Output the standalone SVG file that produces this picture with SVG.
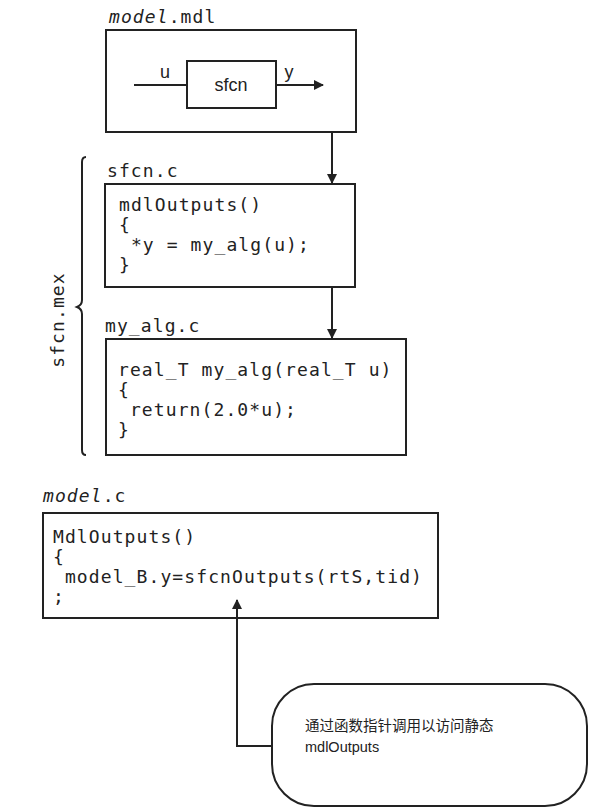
<svg xmlns="http://www.w3.org/2000/svg" width="606" height="808" viewBox="0 0 606 808">
<style>
.box{fill:#fff;stroke:#222;stroke-width:2}
.ln{fill:none;stroke:#222;stroke-width:2}
.mono{font-family:"DejaVu Sans Mono","Liberation Mono",monospace;font-size:18px;letter-spacing:1.1px;fill:#222}
.sans{font-family:"Liberation Sans",Arial,sans-serif;font-size:18px;fill:#222}
.cn{font-family:"Liberation Sans","Noto Sans CJK SC",sans-serif;font-size:14.5px;fill:#222}
</style>
<defs><marker id="ah" markerWidth="10" markerHeight="10" refX="9" refY="5" orient="auto" markerUnits="userSpaceOnUse"><path d="M0,0 L10,5 L0,10 Z" fill="#222"/></marker></defs>
<rect width="606" height="808" fill="#fff"/>
<g id="model_mdl">
<text x="109" y="23" class="mono"><tspan font-style="italic">model</tspan>.mdl</text>
<rect x="106" y="30" width="250" height="102" class="box"/>
<rect x="187" y="61" width="89" height="47" class="box"/>
<text x="231" y="91" class="sans" text-anchor="middle">sfcn</text>
<text x="165" y="78" class="sans" text-anchor="middle">u</text>
<text x="289" y="78" class="sans" text-anchor="middle">y</text>
</g>
<g id="sfcn_c">
<text x="107" y="177" class="mono">sfcn.c</text>
<rect x="105" y="184" width="250" height="103" class="box"/>
<text class="mono"><tspan x="119" y="211">mdlOutputs()</tspan><tspan x="119" y="231">{</tspan><tspan x="119" y="251"> *y = my_alg(u);</tspan><tspan x="119" y="271">}</tspan></text>
</g>
<g id="my_alg_c">
<text x="105" y="332" class="mono">my_alg.c</text>
<rect x="106" y="339" width="300" height="116" class="box"/>
<text class="mono"><tspan x="118" y="376">real_T my_alg(real_T u)</tspan><tspan x="118" y="396">{</tspan><tspan x="118" y="416"> return(2.0*u);</tspan><tspan x="118" y="436">}</tspan></text>
</g>
<g id="sfcn_mex">
<path d="M86,157 Q82,157 82,162 L82,300 Q82,305 77,307 Q82,309 82,314 L82,450 Q82,455 86,455" class="ln" stroke-width="3.5"/>
<text transform="translate(64,320) rotate(-90)" class="mono" text-anchor="middle">sfcn.mex</text>
</g>
<g id="model_c">
<text x="43" y="502" class="mono"><tspan font-style="italic">model</tspan>.c</text>
<rect x="43" y="513" width="395" height="105" class="box"/>
<text class="mono"><tspan x="53" y="543">MdlOutputs()</tspan><tspan x="53" y="563">{</tspan><tspan x="53" y="583"> model_B.y=sfcnOutputs(rtS,tid)</tspan><tspan x="53" y="603">;</tspan></text>
</g>
<g id="note">
<rect x="272" y="684" width="315" height="122" rx="42" class="box"/>
<text class="cn"><tspan x="305" y="731">通过函数指针调用以访问静态</tspan><tspan x="305" y="752">mdlOutputs</tspan></text>
</g>
<g id="connectors">
<line x1="134" y1="85" x2="187" y2="85" class="ln"/>
<line x1="276" y1="85" x2="323" y2="85" class="ln" marker-end="url(#ah)"/>
<line x1="332" y1="132" x2="332" y2="183" class="ln" marker-end="url(#ah)"/>
<line x1="332" y1="287" x2="332" y2="338" class="ln" marker-end="url(#ah)"/>
<polyline points="272,746 237,746 237,600" class="ln" marker-end="url(#ah)"/>
</g>
</svg>
